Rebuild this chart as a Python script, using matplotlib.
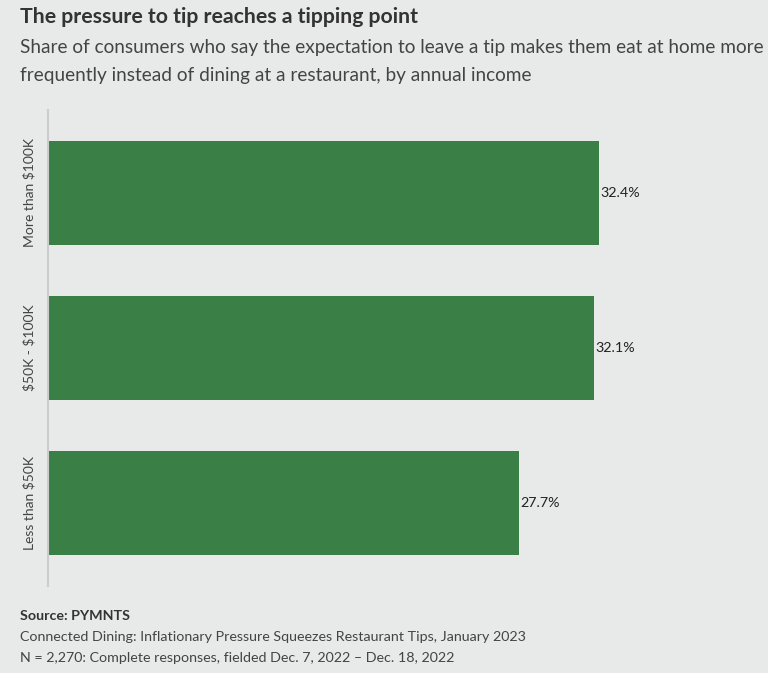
import matplotlib
matplotlib.use("Agg")
import matplotlib.pyplot as plt

# data
categories = ["Less than \\$50K", "\\$50K - \\$100K", "More than \\$100K"]
shares = [27.7, 32.1, 32.4]
labels = ["27.7%", "32.1%", "32.4%"]

bg = "#e8e9e9"
green = "#3a7f45"
plt.rcParams['font.family'] = ['Lato', 'DejaVu Sans']

fig = plt.figure(figsize=(7.68, 6.73), dpi=100, facecolor=bg)
ax = fig.add_axes([48/768, 87/673, 720/768, 476/673], facecolor=bg)

ax.barh(range(len(shares)), shares, height=0.67, color=green)
for i, (v, lab) in enumerate(zip(shares, labels)):
    ax.text(v + 0.1, i, lab, va="center", ha="left", fontsize=10.3, color="#222222")

ax.set_xlim(0, 720/17)
ax.set_ylim(-0.535, 2.535)
ax.set_yticks(range(len(categories)))
ax.set_yticklabels(categories, rotation=90, va="center", fontsize=10, color="#444444")
ax.tick_params(axis="y", length=0, pad=9)
ax.set_xticks([])
for s in ["top", "right", "bottom"]:
    ax.spines[s].set_visible(False)
ax.spines["left"].set_color("#cccccc")
ax.spines["left"].set_linewidth(1.5)

# titles
fig.text(20/768, 1 - 17/673, "The pressure to tip reaches a tipping point",
         fontsize=15.3, fontweight="bold", color="#333333", va="center")
fig.text(20/768, 1 - 47/673,
         "Share of consumers who say the expectation to leave a tip makes them eat at home more",
         fontsize=13.7, color="#444444", va="center")
fig.text(20/768, 1 - 76/673,
         "frequently instead of dining at a restaurant, by annual income",
         fontsize=13.7, color="#444444", va="center")

# source notes
fig.text(20/768, 1 - 616/673, "Source: PYMNTS", fontsize=10.3, fontweight="bold",
         color="#333333", va="center")
fig.text(20/768, 1 - 637/673,
         "Connected Dining: Inflationary Pressure Squeezes Restaurant Tips, January 2023",
         fontsize=10.3, color="#444444", va="center")
fig.text(20/768, 1 - 658/673,
         "N = 2,270: Complete responses, fielded Dec. 7, 2022 \u2013 Dec. 18, 2022",
         fontsize=10.3, color="#444444", va="center")

fig.savefig("out.png", dpi=100, facecolor=bg)
